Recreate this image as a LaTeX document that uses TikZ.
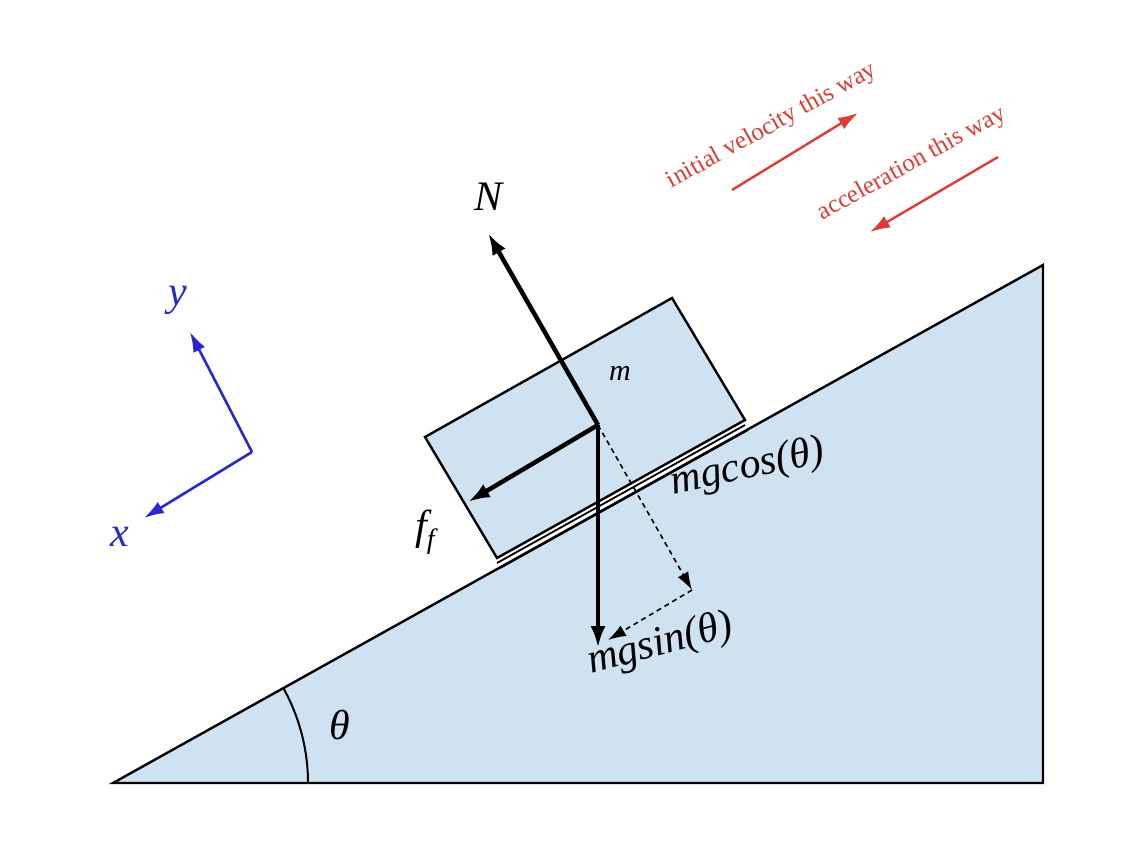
\documentclass[tikz,border=0pt]{standalone}
\usepackage{fontspec}
\setmainfont{Liberation Serif}
\usetikzlibrary{arrows.meta}
\definecolor{incl}{RGB}{207,226,242}
\definecolor{redc}{RGB}{222,60,50}
\definecolor{bluec}{RGB}{40,40,210}
\tikzset{force/.style={-{Latex[length=22pt,width=15pt]},line width=4.5pt},
 dsh/.style={dash pattern=on 5pt off 4pt,line width=1.6pt,-{Latex[length=18pt,width=12pt]}},
 ax/.style={bluec,line width=2.6pt,-{Latex[length=20pt,width=13pt]}},
 rarr/.style={redc,line width=2.4pt,-{Latex[length=20pt,width=13pt]}},
 lbl/.style={font=\fontsize{42}{44}\selectfont\itshape},
 rlbl/.style={redc,font=\fontsize{25}{27}\selectfont,rotate=29}}
\begin{document}
\begin{tikzpicture}[x=1pt,y=-1pt]
\useasboundingbox (0,0) rectangle (1134,850);
\coordinate (A) at (113,783); \coordinate (B) at (1043,783); \coordinate (C) at (1043,265);
\draw[fill=incl,line width=2.4pt] (A) -- (B) -- (C) -- cycle;
\draw[fill=incl,line width=2.4pt] (497,558) -- (745,420) -- (672,298) -- (425,437) -- cycle;
\draw[line width=1.8pt] (497,563) -- (745,425);
\draw[line width=1.8pt] (500,568) -- (748,430);
\draw[line width=2pt] (308,783) arc[start angle=0,end angle=-29,radius=195];
\node[lbl] (th) at (340,725) {\textit{θ}};
\coordinate (O) at (598,425);
\draw[force] (O) -- (488,233);
\draw[force] (O) -- (598,648);
\draw[force] (O) -- (468,502);
\coordinate (P) at (692,590);
\draw[dsh] (O) -- (P);
\draw[dsh] (P) -- (608,640);
\node[lbl] (N) at (488,197) {\textit{N}};
\node[font=\fontsize{30}{32}\selectfont] (m) at (620,373) {\textit{m}};
\node[lbl] (f) at (425,532) {\textit{f}\raisebox{-9pt}{\fontsize{28}{30}\selectfont\textit{f}}};
\node[lbl,rotate=12,anchor=west] (mc) at (668,485) {\textit{mgcos}(θ)};
\node[lbl,rotate=15,anchor=west] (ms) at (585,665) {\textit{mgsin}(θ)};
\coordinate (o2) at (252,452);
\draw[ax] (o2) -- (190,332);
\draw[ax] (o2) -- (144,518);
\node[bluec,lbl] (y) at (178,300) {\textit{y}};
\node[bluec,lbl] (x) at (120,537) {\textit{x}};
\node[rlbl] (iv) at (772,126) {initial velocity this way};
\draw[rarr] (732,190) -- (858,113);
\node[rlbl] (ac) at (912,164) {acceleration this way};
\draw[rarr] (998,157) -- (870,232);
\end{tikzpicture}
\end{document}
